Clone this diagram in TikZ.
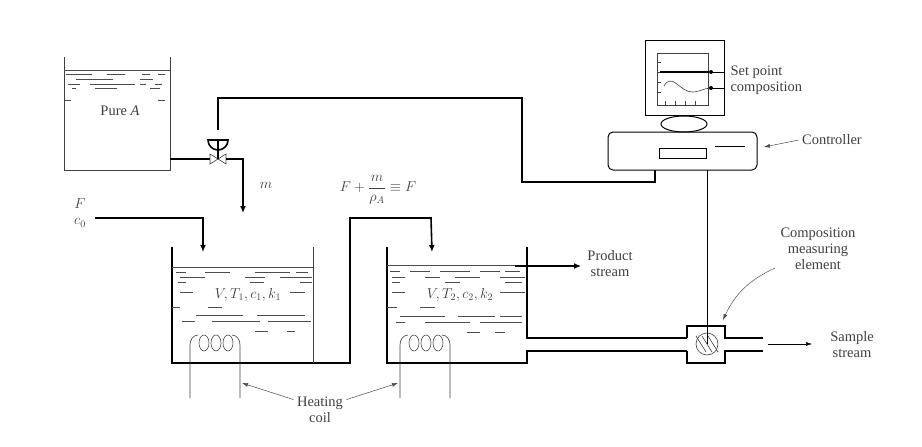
\documentclass[tikz,border=0pt]{standalone}
\usepackage{fontspec}
\setmainfont{Liberation Serif}
\usetikzlibrary{positioning,arrows.meta,shapes.geometric}
\tikzset{%
	wall/.style={line width=1.6pt},
	pipe/.style={line width=1.6pt},
	thin/.style={line width=0.6pt, draw=black!75},
	liquid/.style={line width=0.6pt, draw=black!70},
	flow/.style={pipe, -{Latex[length=7pt,width=6pt]}},
	pointer/.style={line width=0.5pt, draw=black!70, -{Latex[length=6pt,width=4pt]}},
	label/.style={font=\fontsize{14.5}{16}\selectfont, text=black!75, align=center},
}
\begin{document}
\begin{tikzpicture}[x=1pt, y=-1pt]
\useasboundingbox (0,0) rectangle (922,447);

% pure A tank
\draw[thin, line width=0.9pt] (64,57) -- (64,170) -- (170,170) -- (170,57);
\draw[liquid] (64,70) -- (170,70);
\foreach \a/\b/\y in {66/92/74, 107/125/74, 142/150/74, 158/165/74, 76/113/79, 140/153/79,
	68/80/84, 90/135/84, 140/146/84, 155/162/84, 72/76/88, 95/117/88, 150/160/88, 64/71/100, 158/165/100}
	\draw[liquid] (\a,\y) -- (\b,\y);
\node[label] (pure) at (120,111) {Pure \textit{A}};

% feed from pure A through valve
\coordinate (valve) at (218,159);
\draw[pipe] (170,159) -- (210,159);
\draw[thin] (210,154) -- (226,164) -- (226,154) -- (210,164) -- cycle;
\draw[pipe] (valve) -- ++(0,-18);
\draw[pipe] (208,140) arc (180:0:10) -- cycle;
\draw[pipe] (218,130) -- (218,98) -- (522,98) -- (522,182) -- (655,182) -- (655,170);
\draw[pipe] (226,159) -- (243,159);
\coordinate (mstart) at (243,158);
\coordinate (mend) at (243,213);
\draw[flow] (mstart) -- (mend);
\node[label] (mlab) at (266,185) {$m$};

% fresh feed
\node[label] (feed) at (80,213) {$F$\\$c_0$};
\coordinate (fstart) at (95,218);
\coordinate (fend) at (203,252);
\draw[flow] (fstart) -| (fend);

% tank 1
\draw[wall] (172,247) -- (172,363) -- (350,363) -- (350,218) -- (432,218);
\coordinate (f2start) at (431,218);
\coordinate (f2end) at (432,252);
\draw[flow] (f2start) -- (f2end);
\draw[thin] (313,247) -- (313,363);
\draw[liquid] (172,267) -- (313,267);
\foreach \a/\b/\y in {176/186/272, 205/230/272, 255/290/272, 296/308/272, 180/205/277, 245/265/277, 280/312/277,
	178/186/282, 250/264/282, 300/312/282, 180/193/292, 290/305/292, 172/180/307, 208/222/307, 196/243/315,
	257/305/315, 182/195/321, 212/260/321, 268/311/321, 255/268/331, 287/295/331}
	\draw[liquid] (\a,\y) -- (\b,\y);
\node[label, fill=white, inner sep=1pt] (tank1) at (248,295) {$V, T_1, c_1, k_1$};
% heating coil 1
\foreach \cx in {204,216,228} \draw[thin] (\cx,343) ellipse (5 and 8);
\draw[thin] (190,398) -- (190,345) to[out=90,in=180] (198,335);
\draw[thin] (240,398) -- (240,345) to[out=90,in=0] (232,335);

% tank 2
\draw[wall] (387,247) -- (387,363) -- (527,363) -- (527,351) -- (687,351);
\draw[wall] (527,247) -- (527,338) -- (687,338);
\draw[liquid] (387,265) -- (527,265);
\foreach \a/\b/\y in {390/400/271, 410/430/271, 440/470/271, 480/500/271, 505/520/271, 392/405/277, 425/440/277,
	455/480/277, 500/525/277, 392/400/282, 445/460/282, 505/522/282, 392/405/292, 500/525/292, 387/397/307,
	420/435/307, 400/445/316, 458/495/316, 500/522/316, 396/405/322, 425/470/322, 480/522/322, 467/480/332, 495/505/332}
	\draw[liquid] (\a,\y) -- (\b,\y);
\node[label, fill=white, inner sep=1pt] (tank2) at (460,295) {$V, T_2, c_2, k_2$};
% heating coil 2
\foreach \cx in {414,426,438} \draw[thin] (\cx,343) ellipse (5 and 8);
\draw[thin] (400,398) -- (400,345) to[out=90,in=180] (408,335);
\draw[thin] (450,398) -- (450,345) to[out=90,in=0] (442,335);

% product stream
\coordinate (pstart) at (515,266);
\coordinate (pend) at (581,266);
\draw[flow, line width=1.2pt] (pstart) -- (pend);
\node[label] (product) at (610,264) {Product\\stream};

% measuring element
\draw[wall] (687,338) -- (687,326) -- (725,326) -- (725,338) -- (763,338);
\draw[wall] (687,351) -- (687,363) -- (725,363) -- (725,351) -- (763,351);
\node[circle, draw, thin, minimum size=22pt, inner sep=0pt] (sensor) at (707,344) {};
\foreach \d in {-6,0,6}
	\draw[thin] ([shift={(\d-5,-8)}]sensor.center) -- ([shift={(\d+5,8)}]sensor.center);
\draw[line width=1pt] (sensor.center) -- (707,170);
\coordinate (sstart) at (768,344);
\coordinate (send) at (812,344);
\draw[pointer, draw=black] (sstart) -- (send);
\node[label] (sample) at (852,345) {Sample\\stream};
\node[label] (element) at (818,249) {Composition\\measuring\\element};
\coordinate (etip) at (723,320);
\draw[pointer] (775,268) to[bend right=20] (etip);

% controller and recorder
\draw[line width=1pt, rounded corners=5pt] (608,132) rectangle (757,170);
\node[draw, line width=1pt, minimum width=47pt, minimum height=10pt, inner sep=0pt] (slot) at (683,153) {};
\draw[line width=1pt] (715,146) -- (745,146);
\node[draw, ellipse, line width=1pt, minimum width=46pt, minimum height=16pt, inner sep=0pt] (stand) at (684,124) {};
\draw[line width=1pt] (645,40) rectangle (724,115);
\draw[thin] (657,53) rectangle (708,105);
\foreach \t in {665,675,685,695} \draw[thin] (\t,105) -- (\t,101);
\foreach \t in {62,72,82,92} \draw[thin] (657,\t) -- (661,\t);
\draw[line width=1.4pt] (660,72) -- (711,72);
\fill (711,72) circle (2pt);
\draw[thin] (664,86) .. controls (672,72) and (680,92) .. (692,92) .. controls (700,92) and (704,88) .. (711,88);
\fill (711,88) circle (2pt);
\draw[line width=1pt] (711,72) -- (724,72) (711,88) -- (724,88);
\node[label, align=left, anchor=west] (setpoint) at (727,80) {Set point\\composition};
\node[label] (controller) at (832,140) {Controller};
\coordinate (ctip) at (764,147);
\draw[pointer] (controller.west) -- (ctip);

% flow label
\node[label] (flow2) at (378,190) {$F + \displaystyle\frac{m}{\rho_A} \equiv F$};

% heating coil label
\node[label] (coil) at (320,410) {Heating\\coil};
\coordinate (c1tip) at (242,383);
\coordinate (c2tip) at (398,383);
\draw[pointer] (coil.north west) ++(0,6) -- (c1tip);
\draw[pointer] (coil.north east) ++(0,6) -- (c2tip);
\end{tikzpicture}
\end{document}
